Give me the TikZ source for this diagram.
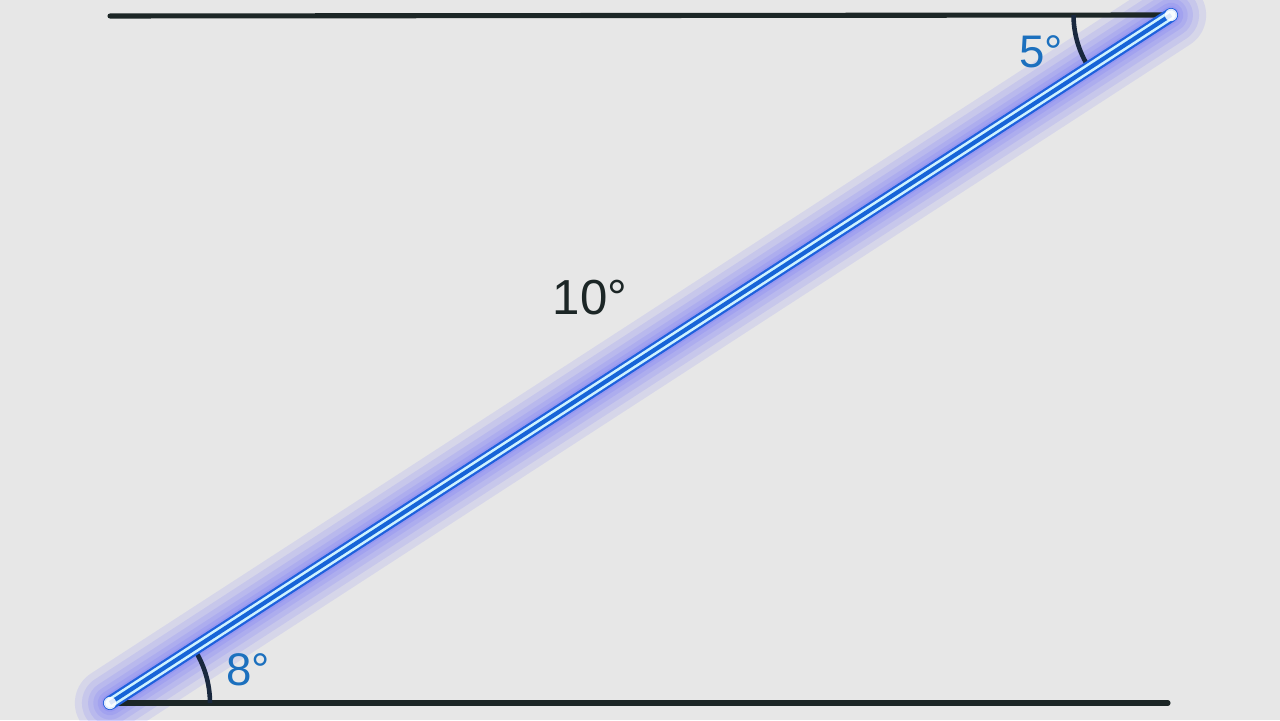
\documentclass[tikz,border=0pt]{standalone}
\usepackage{fontspec}
\setmainfont{Liberation Sans}
\definecolor{paperback}{RGB}{231,231,231}
\definecolor{rulegray}{RGB}{28,38,38}
\definecolor{glowblue}{RGB}{80,80,255}
\definecolor{beamblue}{RGB}{22,100,215}
\definecolor{beamcore}{RGB}{205,242,255}
\definecolor{anglenavy}{RGB}{25,40,62}
\definecolor{labelblue}{RGB}{28,112,190}

\begin{document}
\begin{tikzpicture}[x=0.02cm,y=0.02cm,
  rule/.style={draw=rulegray,line width=2.9pt,line cap=round},
  glow/.style={draw=glowblue,line cap=round,opacity=0.11},
  anglemark/.style={draw=anglenavy,line width=2.6pt},
  anglelabel/.style={text=labelblue,font=\fontsize{26}{28}\selectfont}]
\fill[paperback] (0,0) rectangle (1280,720);
\useasboundingbox (0,0) rectangle (1280,720);
\coordinate (botleft) at (110,17);
\coordinate (botright) at (1168,17);
\coordinate (topleft) at (110,704);
\coordinate (topright) at (1171,705);
% glow round the slanted line
\foreach \w in {40,32,25,19,14,10}
  \draw[glow,line width=\w pt] (botleft) -- (topright);
\draw[rule] (topleft) -- (topright);
\draw[rule] (botleft) -- (botright);
\draw[anglemark] (botleft) ++(0:2cm) arc (0:33:2cm);
\draw[anglemark] (topright) ++(180:1.95cm) arc (180:213:1.95cm);
\draw[beamblue!85!glowblue,line width=8pt,line cap=round] (botleft) -- (topright);
\draw[beamcore,line width=5.4pt,line cap=round] (botleft) -- (topright);
\draw[beamblue,line width=2.4pt] (botleft) -- (topright);
\fill[white,opacity=0.85] (botleft) circle (3.5pt);
\fill[white,opacity=0.85] (topright) circle (3.5pt);
\node[anglelabel] (eightlbl) at (248,50) {8°};
\node[anglelabel] (fivelbl) at (1041,668) {5°};
\node[text=rulegray,font=\fontsize{28}{30}\selectfont] (tenlbl) at (590,422) {10°};
\end{tikzpicture}
\end{document}
